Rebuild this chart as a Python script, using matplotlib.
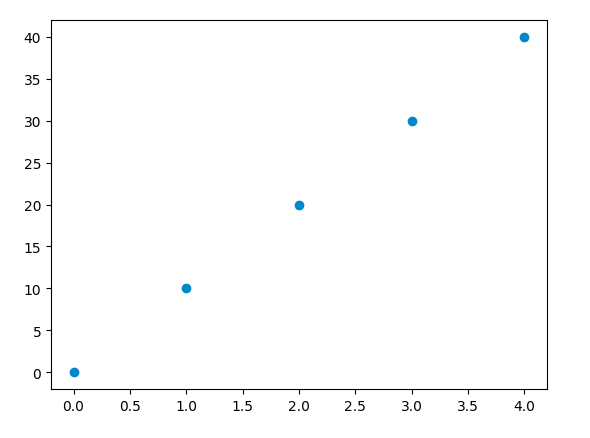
import matplotlib
matplotlib.use('Agg')
import matplotlib.pyplot as plt

x = [0, 1, 2, 3, 4]
y = [0, 10, 20, 30, 40]

fig = plt.figure(figsize=(5.9, 4.39), dpi=100)
ax = fig.add_axes([51 / 590, 49 / 439, 496 / 590, 369 / 439])
ax.plot(x, y, 'o', color='#0088c8')

fig.savefig('out.png', dpi=100)
